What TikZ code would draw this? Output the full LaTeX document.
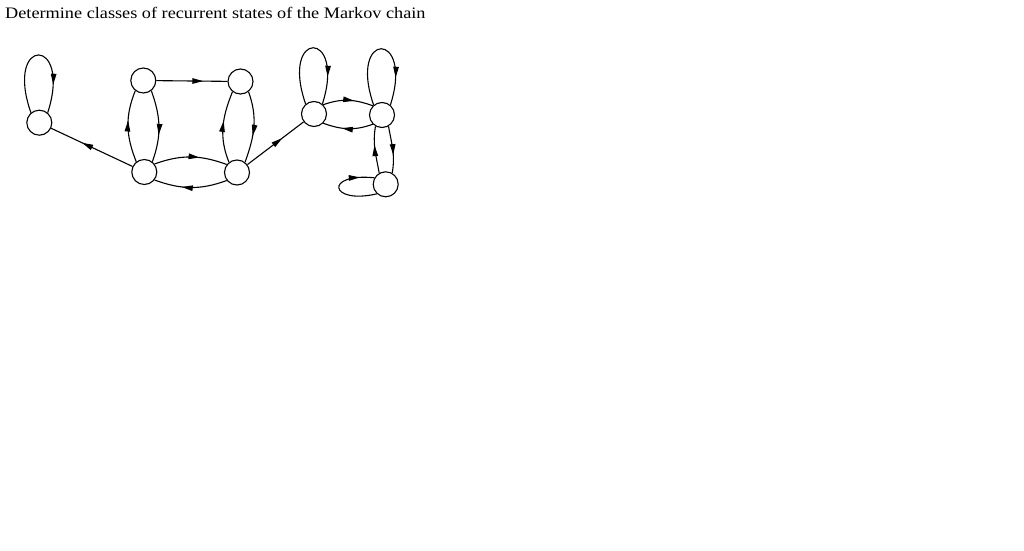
\documentclass[tikz,border=0pt]{standalone}
\usepackage{fontspec}
\setmainfont{Liberation Serif}
\usetikzlibrary{arrows.meta,decorations.markings}
\tikzset{
  st/.style={circle,draw,line width=1.1pt,minimum size=25pt,inner sep=0pt,fill=white},
  tipstyle/.tip={Triangle[length=11pt,width=5.5pt]},
  midarrow/.style={postaction={decorate},decoration={markings,mark=at position #1 with {\arrow{tipstyle}}}},
  edge/.style={line width=1.1pt,midarrow=#1},
  edge/.default=0.6
}
\begin{document}
\begin{tikzpicture}[x=1pt,y=1pt]
\useasboundingbox (0,0) rectangle (1024,550);
\node[anchor=base west,inner sep=0pt,font=\fontsize{16}{19}\selectfont] (title) at (5,531) {\scalebox{1.14}[1]{Determine classes of recurrent states of the Markov chain}};

\node[st] (A) at (39.3,427.3) {};
\node[st] (B) at (143.3,469.5) {};
\node[st] (C) at (240.5,468.5) {};
\node[st] (D) at (144.3,378) {};
\node[st] (E) at (237,377.5) {};
\node[st] (F) at (314,436) {};
\node[st] (G) at (382,435) {};
\node[st] (H) at (385.7,365.7) {};

% self loops
\draw[edge=0.78] (A.130) .. controls +(-27,77) and +(25,77) .. (A.50);
\draw[edge=0.78] (F.130) .. controls +(-26,75) and +(24,75) .. (F.50);
\draw[edge=0.78] (G.130) .. controls +(-26,75) and +(24,75) .. (G.50);
\draw[edge=0.82] (H.227) .. controls +(-47,-11) and +(-51,5) .. (H.150);

% straight edges
\draw[edge=0.62] (D) -- (A);
\draw[edge=0.66] (B) -- (C);
\draw[edge=0.62] (E) -- (F);

% square pairs
\draw[edge=0.62] (B.-52) to[out=-70,in=70] (D.52);
\draw[edge=0.58] (D.128) to[out=112,in=-112] (B.232);
\draw[edge=0.62] (C.-52) to[out=-70,in=70] (E.52);
\draw[edge=0.58] (E.128) to[out=112,in=-112] (C.232);
\draw[edge=0.62] (D.38) to[out=20,in=160] (E.142);
\draw[edge=0.62] (E.-142) to[out=-160,in=-20] (D.-38);

% right group
\draw[edge=0.62] (F.45) to[out=20,in=160] (G.135);
\draw[edge=0.62] (G.-135) to[out=-160,in=-20] (F.-45);
\draw[edge=0.62] (G.-60) to[out=-80,in=80] (H.60);
\draw[edge=0.6] (H.120) to[out=100,in=-100] (G.240);
\end{tikzpicture}
\end{document}
